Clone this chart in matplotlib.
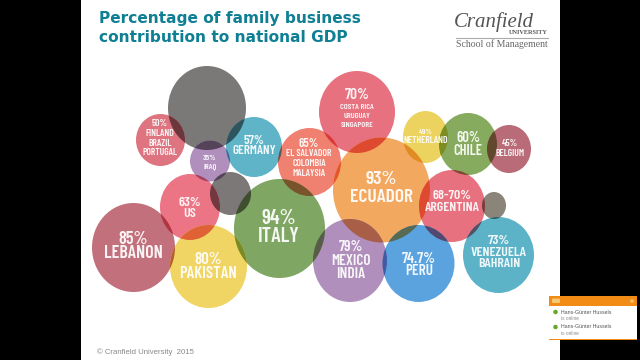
import matplotlib
matplotlib.use('Agg')
import matplotlib.pyplot as plt
from matplotlib.patches import Ellipse, Rectangle, FancyBboxPatch
import numpy as np

# bubbles, in slide pixels
names = ['big grey', 'finland', 'iraq', 'germany', 'salvador', 'costa rica', 'netherland',
         'chile', 'belgium', 'ecuador', 'argentina', 'small grey', 'venezuela', 'peru',
         'mexico', 'italy', 'mid grey', 'us', 'lebanon', 'pakistan']
bubble_x = [207, 160.5, 210, 254, 309.5, 357, 425.5, 468, 509, 381.5, 452, 494, 498.5, 418.5,
            350, 279.5, 230.5, 190, 133.5, 208.5]
bubble_y = [108, 140, 161, 147, 162, 112, 137, 144, 149, 190, 206, 205.5, 255, 263.5,
            260.5, 228.5, 193.5, 207, 247.5, 266.5]
bubble_w = [78, 49, 40, 56, 63, 76, 45, 58, 44, 97, 66, 24, 71, 72, 74, 91, 41, 60, 83, 77]
bubble_h = [84, 52, 41, 60, 68, 82, 52, 62, 48, 105, 72, 27, 76, 77, 83, 99, 43, 66, 89, 83]
bubble_c = ['#7b7878', '#dd7480', '#b08fbd', '#5fb4c8', '#f08070', '#e8717f', '#ecd35f',
            '#86ab5e', '#b96c78', '#f3a860', '#e8717f', '#8a8578', '#5cb3c8', '#5ba3de',
            '#b08fbd', '#7fa662', '#7c7878', '#ec7585', '#c2707c', '#f0d565']

# label text
label_text = ['50%', 'FINLAND', 'BRAZIL', 'PORTUGAL', '35%', 'IRAQ', '57%', 'GERMANY',
              '65%', 'EL SALVADOR', 'COLOMBIA', 'MALAYSIA',
              '70%', 'COSTA RICA', 'URUGUAY', 'SINGAPORE', '49%', 'NETHERLAND',
              '60%', 'CHILE', '45%', 'BELGIUM', '93%', 'ECUADOR', '68-70%', 'ARGENTINA',
              '73%', 'VENEZUELA', 'BAHRAIN', '74.7%', 'PERU', '79%', 'MEXICO', 'INDIA',
              '94%', 'ITALY', '63%', 'US', '85%', 'LEBANON', '80%', 'PAKISTAN']
label_x = [160, 160, 160, 160, 210, 210, 254, 254,
           309, 309, 309, 309,
           357, 357, 357, 357, 426, 426,
           468, 468, 510, 510, 381, 381, 452, 452,
           499, 499, 499, 419, 419, 351, 351, 351,
           279, 279, 190, 190, 133, 133, 208, 208]
label_y = [123, 133, 143, 152.5, 157.5, 166.5, 141, 151,
           144, 154, 164, 173,
           95, 107, 116, 125, 132, 140.5,
           138, 151, 144, 153, 179, 197, 196, 208,
           241, 253, 264, 259, 271, 247, 261, 274,
           219, 236, 203, 214, 240, 254, 260, 273]
label_size = [7, 7, 7, 7, 6, 6, 9.5, 9.5,
              9, 7, 7, 7,
              11, 6, 6, 6, 6, 7,
              10.5, 10.5, 7, 7, 14, 14, 10, 10,
              10, 10, 10, 11, 11, 11, 11, 11,
              15, 15, 10, 10, 13, 13, 12, 12]

plt.rcParams['font.family'] = ['Barlow Condensed', 'Liberation Sans', 'DejaVu Sans']

fig = plt.figure(figsize=(6.4, 3.6), dpi=100, facecolor='black')
ax = fig.add_axes([0, 0, 1, 1])
ax.set_xlim(0, 640)
ax.set_ylim(360, 0)
ax.axis('off')

# slide
ax.add_patch(Rectangle((81, 0), 479, 360, fc='white', ec='none', zorder=0))

# bubbles: opaque first, then multiply-coloured overlaps clipped to the neighbour
for i in range(len(names)):
    ax.add_patch(Ellipse((bubble_x[i], bubble_y[i]), bubble_w[i], bubble_h[i],
                         fc=bubble_c[i], ec='none', zorder=1))
for i in range(len(names)):
    ci = np.array(matplotlib.colors.to_rgb(bubble_c[i]))
    for j in range(i + 1, len(names)):
        cj = np.array(matplotlib.colors.to_rgb(bubble_c[j]))
        clip = Ellipse((bubble_x[j], bubble_y[j]), bubble_w[j], bubble_h[j],
                       transform=ax.transData)
        e = Ellipse((bubble_x[i], bubble_y[i]), bubble_w[i], bubble_h[i],
                    fc=tuple(ci * cj), ec='none', zorder=2)
        ax.add_patch(e)
        e.set_clip_path(clip)

for t, x, y, s in zip(label_text, label_x, label_y, label_size):
    ax.text(x, y, t, color='white', alpha=0.92, fontsize=s, ha='center', va='center',
            fontweight=600, zorder=3)

# title
for t, y in zip(['Percentage of family business', 'contribution to national GDP'], [19, 38]):
    ax.text(99, y, t, color='#0f7f94', fontsize=11.1, fontweight='bold', family='DejaVu Sans',
            ha='left', va='center', zorder=3)

# logo
ax.text(454, 22, 'Cranfield', color='#555555', fontsize=15, style='italic',
        family='Liberation Serif', ha='left', va='center')
ax.text(548, 32.5, 'UNIVERSITY', color='#555555', fontsize=4.5, fontweight='bold',
        family='Liberation Serif', ha='right', va='center')
ax.plot([456, 548], [37.5, 37.5], color='#aaaaaa', lw=0.8)
ax.text(456, 44.5, 'School of Management', color='#666666', fontsize=7,
        family='Liberation Serif', ha='left', va='center')

# footer
ax.text(97, 352, '\u00a9 Cranfield University  2015', color='#888888', fontsize=5.6,
        family='Liberation Sans', ha='left', va='center')

# skype popup
ax.add_patch(Rectangle((549, 296), 88, 44, fc='white', ec='none', zorder=4))
ax.add_patch(Rectangle((549, 296), 88, 10, fc='#f28c14', ec='none', zorder=5))
ax.add_patch(Rectangle((549, 338.5), 88, 1.5, fc='#f28c14', ec='none', zorder=5))
ax.add_patch(FancyBboxPatch((553, 299.5), 6, 2.5, boxstyle='round,pad=1', fc='#f7c873', ec='none', zorder=6))
ax.add_patch(Ellipse((632, 301), 4, 4, fc='#f7b860', ec='none', zorder=6))
for y in [312, 327]:
    ax.add_patch(Ellipse((555.5, y), 4.5, 4.5, fc='#6aa52c', ec='none', zorder=6))
    ax.text(561, y, 'Hans-G\u00fcnter Hussels', color='#555555', fontsize=3.8,
            family='Liberation Sans', ha='left', va='center', zorder=6)
    ax.text(561, y + 6.5, 'is online', color='#888888', fontsize=3.4,
            family='Liberation Sans', ha='left', va='center', zorder=6)

fig.savefig('out.png', dpi=100, facecolor='black')
